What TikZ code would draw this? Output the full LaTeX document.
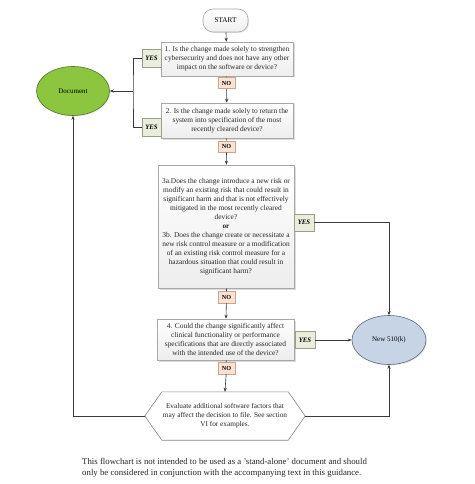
\documentclass[tikz,border=0pt]{standalone}
\usepackage{fontspec}
\setmainfont{Liberation Serif}
\usetikzlibrary{arrows.meta,shadows,shapes.geometric,calc}
\definecolor{linec}{HTML}{3A3A3A}
\definecolor{boxborder}{HTML}{A8A8A8}
\definecolor{yesfill}{HTML}{E9EDDB}
\definecolor{yesborder}{HTML}{9C9E8A}
\definecolor{nofill}{HTML}{FBE2D2}
\definecolor{noborder}{HTML}{C8A690}
\definecolor{docfill}{HTML}{8CC63F}
\definecolor{docborder}{HTML}{56702F}
\definecolor{newfill}{HTML}{C6D4E6}
\definecolor{newborder}{HTML}{5E6B7E}
\begin{document}
\begin{tikzpicture}[x=1pt,y=-1pt,
  qbox/.style={draw=boxborder, line width=0.6pt, top color=white, bottom color=gray!14,
    drop shadow={shadow xshift=1.5pt,shadow yshift=-1.5pt,fill=gray!45,opacity=0.6},
    font=\fontsize{7.4}{9}\selectfont, align=center, inner sep=0pt, text=black!85},
  yesbox/.style={draw=yesborder, fill=yesfill, line width=0.5pt, minimum width=19pt, minimum height=18pt,
    inner sep=0pt, font=\fontsize{6.8}{8}\selectfont\bfseries\itshape},
  nobox/.style={draw=noborder, fill=nofill, line width=0.5pt, minimum width=17pt, minimum height=11.5pt,
    inner sep=0pt, font=\fontsize{6.2}{7}\selectfont\bfseries},
  conn/.style={draw=linec, line width=0.6pt},
  arr/.style={conn, -{Stealth[length=4pt,width=3.2pt]}},
  oval/.style={ellipse, line width=0.6pt, inner sep=0pt, font=\fontsize{7}{8}\selectfont,
    drop shadow={shadow xshift=1pt,shadow yshift=-1pt,fill=gray!40,opacity=0.5}},
]
\useasboundingbox[fill=white] (0,0) rectangle (474,484);

\node[draw=boxborder, line width=0.6pt, rounded corners=10pt, minimum width=45pt, minimum height=23pt,
  top color=white, bottom color=gray!12, inner sep=0pt, font=\fontsize{7.2}{8}\selectfont,
  drop shadow={shadow xshift=1pt,shadow yshift=-1pt,fill=gray!40,opacity=0.5}] (start) at (225.5,20.5) {START};

\node[qbox, minimum width=132pt, minimum height=34pt] (q1) at (227,59)
 {1. Is the change made solely to strengthen\\cybersecurity and does not have any other\\impact on the software or device?};
\node[nobox] (no1) at (226.5,83) {NO};

\node[qbox, minimum width=132pt, minimum height=35pt] (q2) at (227,120.5)
 {2. Is the change made solely to return the\\system into specification of the most\\recently cleared device?};
\node[nobox] (no2) at (226.5,146.5) {NO};

\node[qbox, minimum width=136pt, minimum height=123pt] (q3) at (226,226.5)
 {3a.Does the change introduce a new risk or\\modify an existing risk that could result in\\significant harm and that is not effectively\\mitigated in the most recently cleared\\device?\\\textbf{or}\\3b. Does the change create or necessitate a\\new risk control measure or a modification\\of an existing risk control measure for a\\hazardous situation that could result in\\significant harm?};
\node[nobox] (no3) at (226.5,297) {NO};

\node[qbox, minimum width=137pt, minimum height=41pt] (q4) at (225.5,339.5)
 {4. Could the change significantly affect\\clinical functionality or performance\\specifications that are directly associated\\with the intended use of the device?};
\node[nobox] (no4) at (226.5,368) {NO};

% hexagon
\node[font=\fontsize{7.3}{9}\selectfont, align=center, inner sep=0pt, minimum width=126pt, minimum height=48pt, text=black!85] (hex) at (225,416)
 {Evaluate additional software factors that\\may affect the decision to file. See section\\VI for examples.};
\coordinate (hexL) at ($(hex.west)+(-17,0)$);
\coordinate (hexR) at ($(hex.east)+(17,0)$);
\draw[boxborder!80!black, line width=0.6pt] (hexL) -- (hex.north west) -- (hex.north east) -- (hexR) -- (hex.south east) -- (hex.south west) -- cycle;

\node[yesbox] (yes1) at (151.5,58) {YES};
\node[yesbox] (yes2) at (151.5,127) {YES};
\node[yesbox, minimum height=17pt, minimum width=20pt] (yes3) at (304,222.5) {YES};
\node[yesbox, minimum height=17pt, minimum width=20pt] (yes4) at (305,340) {YES};

\node[oval, draw=docborder, fill=docfill, minimum width=73pt, minimum height=49pt] (doc) at (73,91) {Document};
\node[oval, draw=newborder, fill=newfill, minimum width=74pt, minimum height=49pt] (new) at (389,340) {New 510(k)};

\coordinate (lj) at (133,91);

% main column
\draw[arr] (start) -- (q1);
\draw[conn] (q1) -- (no1);
\draw[arr] (no1) -- (q2);
\draw[conn] (q2) -- (no2);
\draw[arr] (no2) -- (q3);
\draw[conn] (q3) -- (no3);
\draw[arr] (no3) -- (q4);
\draw[conn] (q4) -- (no4);
\draw[arr] (no4) -- (hex.north);

% left side
\draw[conn] (yes1.west) -| (lj) |- (yes2.west);
\draw[arr] (lj) -- (doc.east);
\draw[arr] (hexL) -| (doc.south);

% right side
\draw[arr] (yes3.east) -| (new.north);
\draw[arr] (yes4.east) -- (new.west);
\draw[arr] (hexR) -| (new.south);

\node[anchor=north west, align=left, inner sep=0pt, font=\fontsize{8.8}{10.5}\selectfont, text=black!85] (note) at (82,458.5)
 {This flowchart is not intended to be used as a 'stand-alone' document and should\\only be considered in conjunction with the accompanying text in this guidance.};
\end{tikzpicture}
\end{document}
